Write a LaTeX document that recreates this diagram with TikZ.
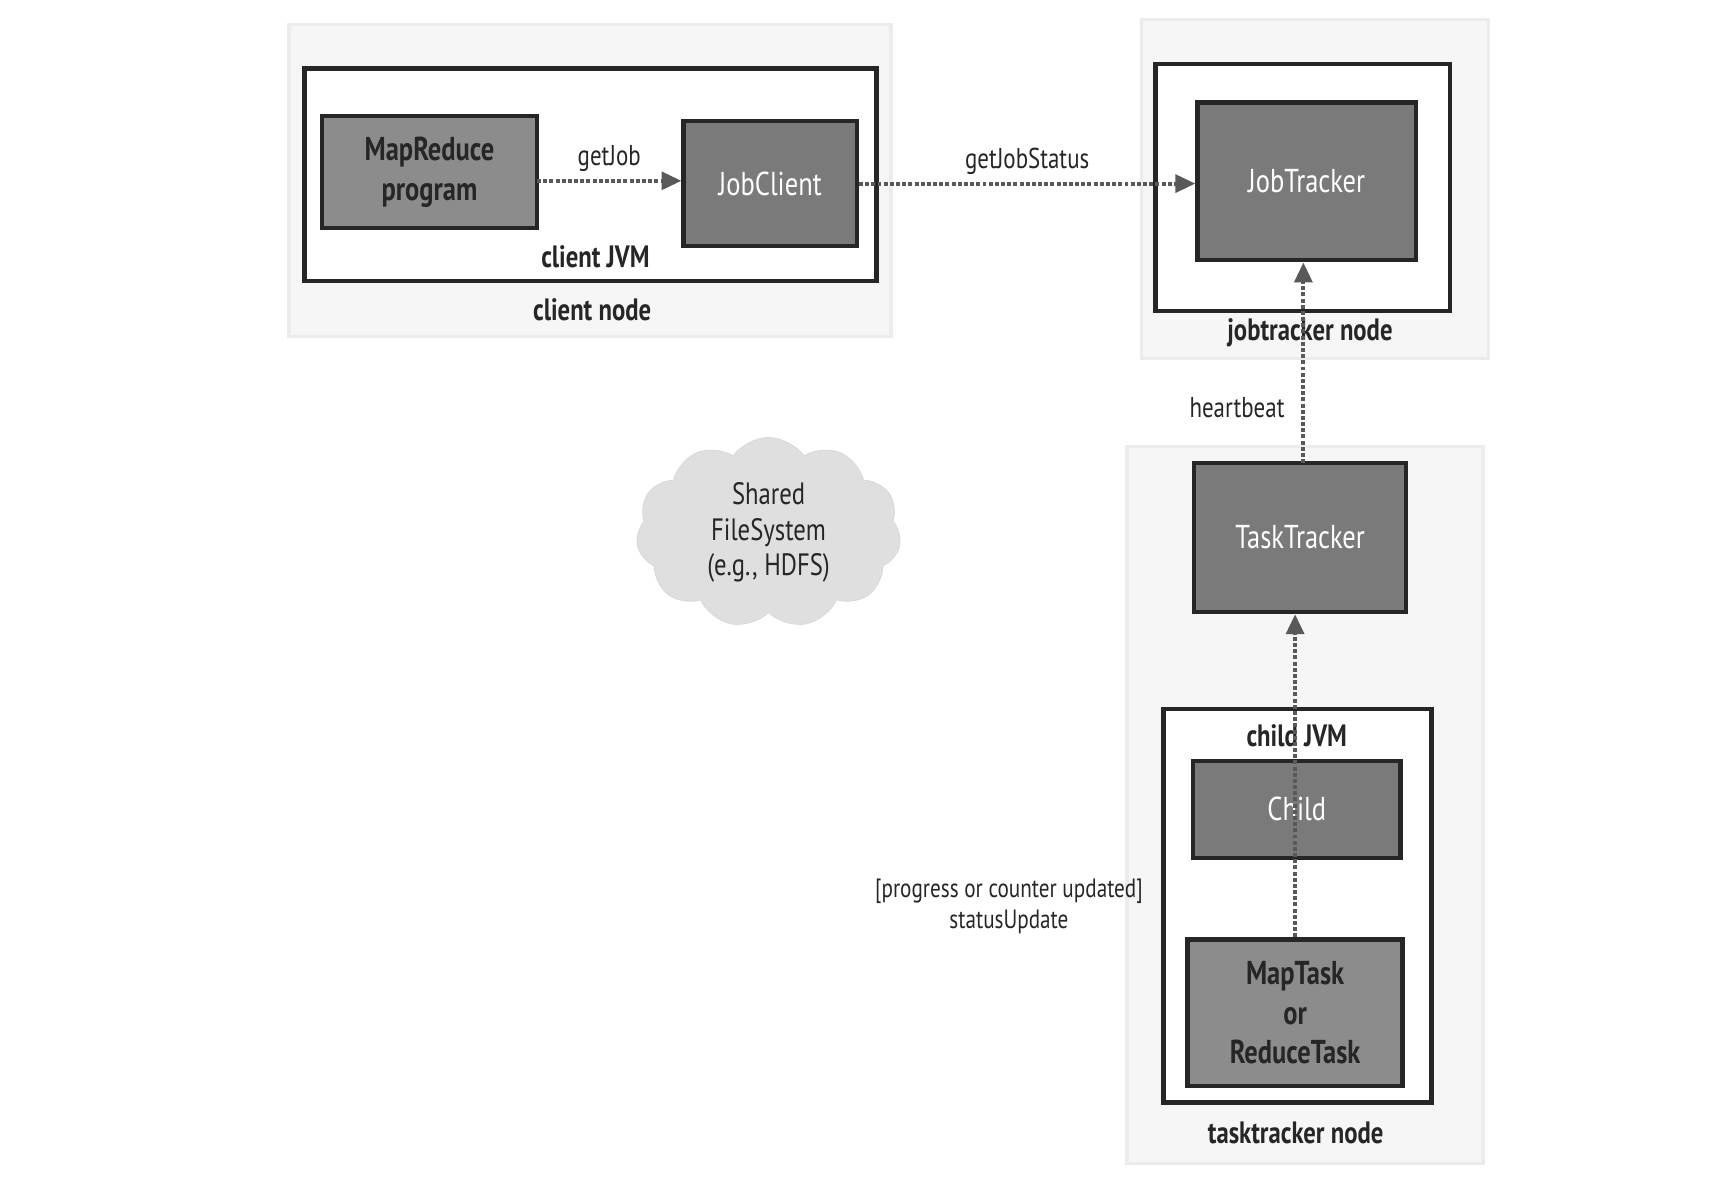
\documentclass[tikz,border=0pt]{standalone}
\usepackage{fontspec}
\setmainfont{PT Sans}[FakeStretch=0.8]
\usetikzlibrary{arrows.meta,shapes.symbols}
\begin{document}
\begin{tikzpicture}[x=0.5pt,y=-0.5pt,
 panel/.style={fill=gray!7,draw=gray!15,line width=1.5pt},
 jvm/.style={fill=white,draw=black!85,line width=2pt},
 box/.style={fill=black!52,draw=black!85,line width=2pt,text=white,font=\fontsize{15}{18}\selectfont},
 dbox/.style={box,fill=black!45,text=black!85,font=\fontsize{15}{18}\selectfont\bfseries},
 lbl/.style={font=\fontsize{14}{16}\selectfont\bfseries,text=black!85},
 arr/.style={densely dotted,line width=1.8pt,draw=black!65,-{Triangle[length=9pt,width=8pt,fill=black!65]}},
 al/.style={font=\fontsize{12}{14}\selectfont,text=black!85}]
\useasboundingbox (0,0) rectangle (1568,1080);
% panels
\draw[panel] (262,22) rectangle (808,305);
\draw[panel] (1035,18) rectangle (1350,325);
\draw[panel] (1022,405) rectangle (1345,1055);
\draw[jvm] (276,62) rectangle (795,255);
\draw[jvm] (1048,58) rectangle (1315,282);
\draw[jvm] (1055,643) rectangle (1298,1000);
% nodes
\node[dbox,minimum width=97.5pt,minimum height=51pt,align=center] (mr) at (389.5,156) {MapReduce\\program};
\node[box,minimum width=78.5pt,minimum height=56.5pt] (jc) at (698.5,166.5) {JobClient};
\node[box,minimum width=99pt,minimum height=71.5pt] (jt) at (1185,164.5) {JobTracker};
\node[box,minimum width=96pt,minimum height=67.5pt] (tt) at (1179,487.5) {TaskTracker};
\node[box,minimum width=94pt,minimum height=44pt] (ch) at (1176,734) {Child};
\node[dbox,minimum width=97.5pt,minimum height=66.5pt,align=center] (mt) at (1174.5,918.5) {MapTask\\or\\ReduceTask};
% labels
\node[lbl] (l1) at (540,233) {client JVM};
\node[lbl] (l2) at (537,281) {client node};
\node[lbl] (l3) at (1188,302) {jobtracker node};
\node[lbl] (l4) at (1176,667) {child JVM};
\node[lbl] (l5) at (1175,1027) {tasktracker node};
% cloud
\node[cloud,cloud puffs=11,cloud puff arc=110,aspect=1.5,fill=gray!25,draw=gray!30,minimum width=120pt,minimum height=82pt,align=center,al,font=\fontsize{14}{16}\selectfont] (fs) at (697,483) {Shared\\FileSystem\\(e.g., HDFS)};
% arrows
\coordinate (a1) at (487,164);
\draw[arr] (a1) -- (a1 -| jc.west) node[midway,above,al,font=\fontsize{13}{15}\selectfont] {getJob};
\draw[arr] (jc.east) -- (jt.west |- jc.east) node[midway,above,al,font=\fontsize{13}{15}\selectfont] {getJobStatus};
\coordinate (a2) at (1182,420);
\draw[arr] (a2) -- (a2 |- jt.south);
\node[al,font=\fontsize{13}{15}\selectfont,anchor=east] (hbl) at (1172,370) {heartbeat};
\draw[arr] (mt.north) -- (tt.south -| mt.north);
\node[al,align=center,font=\fontsize{12}{14}\selectfont] (su) at (915,822) {[progress or counter updated]\\statusUpdate};
\end{tikzpicture}
\end{document}
